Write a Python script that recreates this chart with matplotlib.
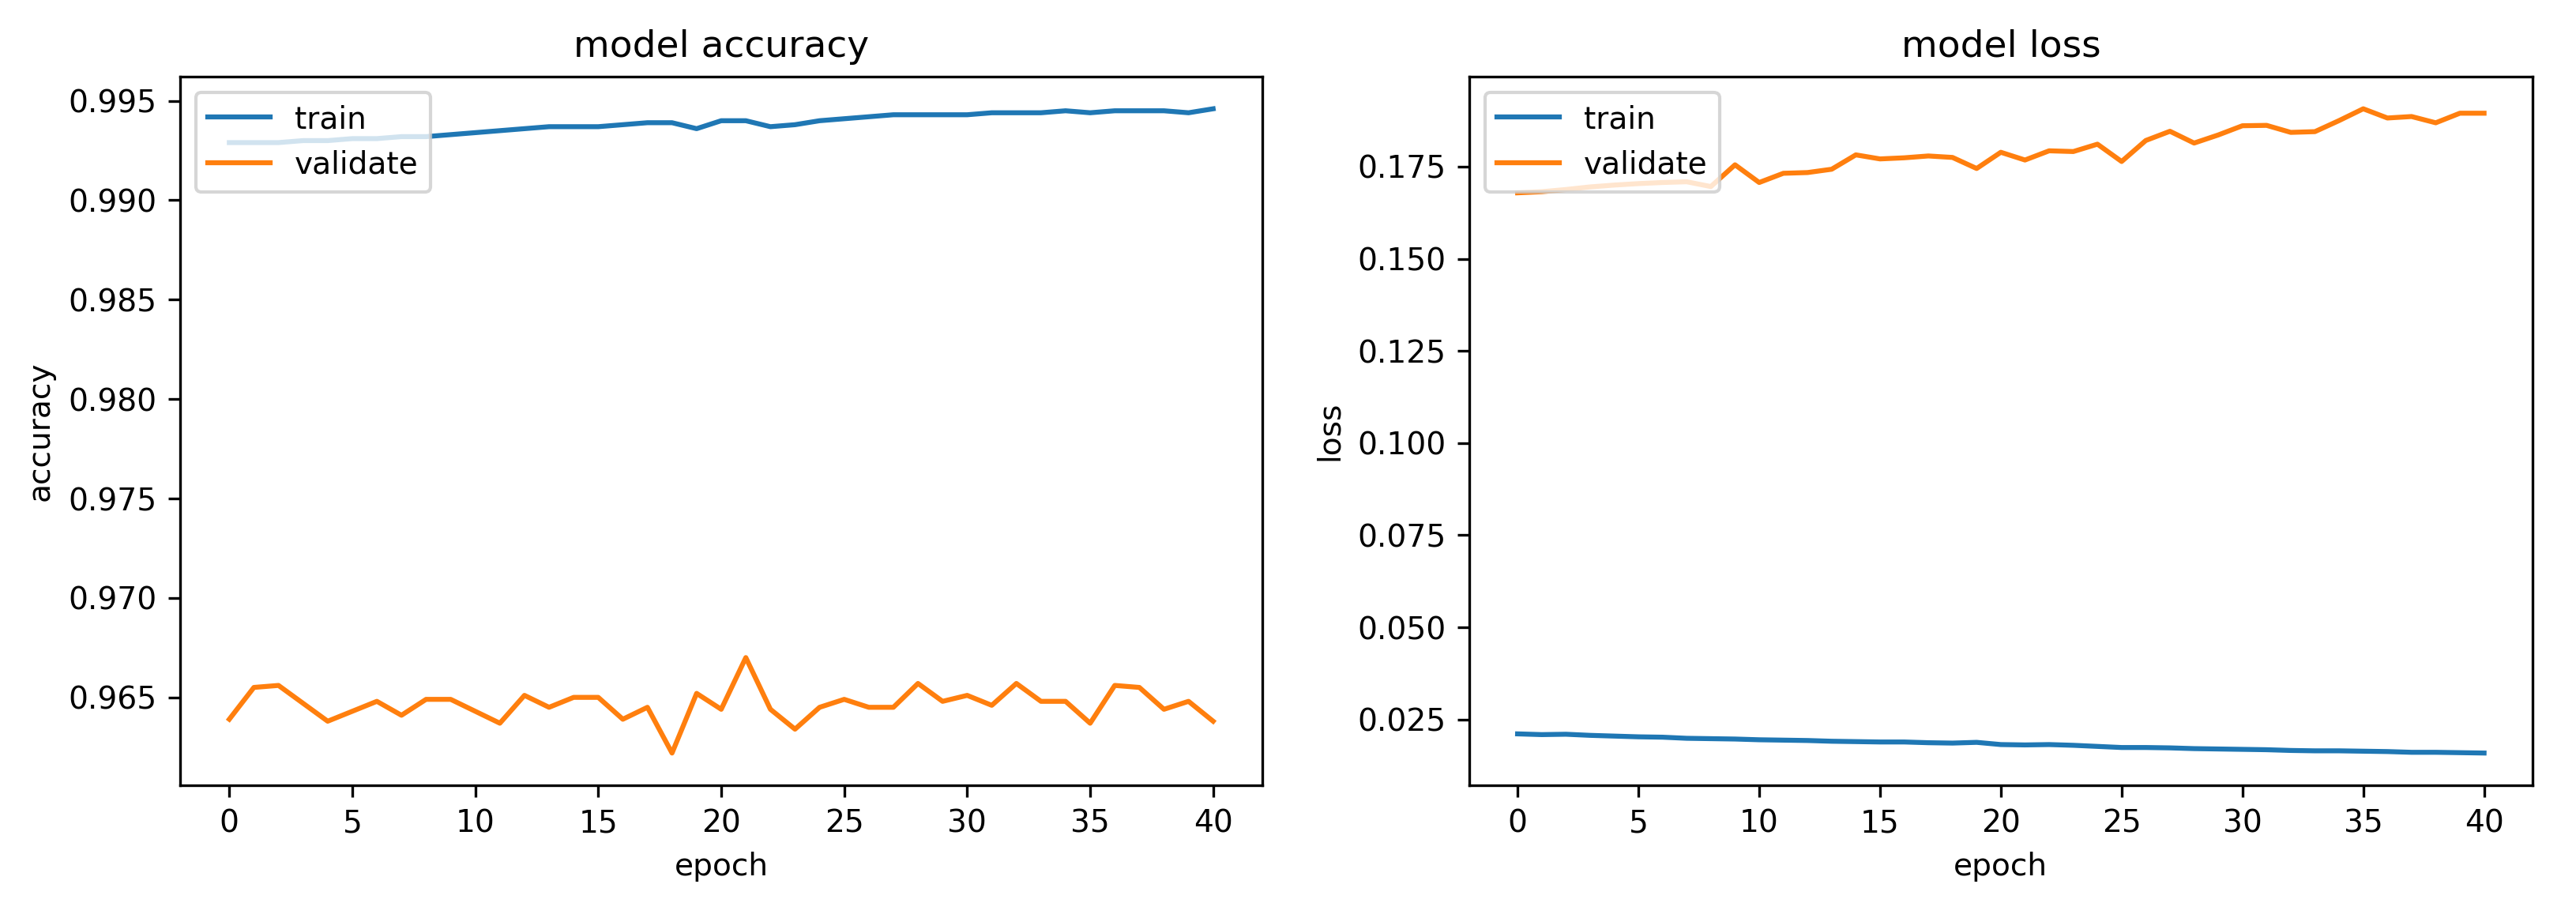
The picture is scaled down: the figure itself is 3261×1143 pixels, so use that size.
import matplotlib
matplotlib.use("Agg")
import matplotlib.pyplot as plt

# Historique d'entraînement (41 époques)
epochs = list(range(41))

train_acc = [0.9929, 0.9929, 0.9929, 0.9930, 0.9930, 0.9931, 0.9931, 0.9932, 0.9932, 0.9933,
             0.9934, 0.9935, 0.9936, 0.9937, 0.9937, 0.9937, 0.9938, 0.9939, 0.9939, 0.9936,
             0.9940, 0.9940, 0.9937, 0.9938, 0.9940, 0.9941, 0.9942, 0.9943, 0.9943, 0.9943,
             0.9943, 0.9944, 0.9944, 0.9944, 0.9945, 0.9944, 0.9945, 0.9945, 0.9945, 0.9944,
             0.9946]

val_acc = [0.9639, 0.9655, 0.9656, 0.9647, 0.9638, 0.9643, 0.9648, 0.9641, 0.9649, 0.9649,
           0.9643, 0.9637, 0.9651, 0.9645, 0.9650, 0.9650, 0.9639, 0.9645, 0.9622, 0.9652,
           0.9644, 0.9670, 0.9644, 0.9634, 0.9645, 0.9649, 0.9645, 0.9645, 0.9657, 0.9648,
           0.9651, 0.9646, 0.9657, 0.9648, 0.9648, 0.9637, 0.9656, 0.9655, 0.9644, 0.9648,
           0.9638]

train_loss = [0.0211, 0.0209, 0.0210, 0.0207, 0.0205, 0.0203, 0.0202, 0.0199, 0.0198, 0.0197,
              0.0195, 0.0194, 0.0193, 0.0191, 0.0190, 0.0189, 0.0189, 0.0187, 0.0186, 0.0188,
              0.0182, 0.0181, 0.0182, 0.0180, 0.0177, 0.0174, 0.0174, 0.0173, 0.0171, 0.0170,
              0.0169, 0.0168, 0.0166, 0.0165, 0.0165, 0.0164, 0.0163, 0.0161, 0.0161, 0.0160,
              0.0159]

val_loss = [0.1679, 0.1682, 0.1688, 0.1695, 0.1700, 0.1704, 0.1707, 0.1709, 0.1696, 0.1755,
            0.1707, 0.1732, 0.1734, 0.1743, 0.1782, 0.1771, 0.1774, 0.1779, 0.1775, 0.1745,
            0.1789, 0.1768, 0.1793, 0.1791, 0.1811, 0.1764, 0.1821, 0.1846, 0.1814, 0.1836,
            0.1861, 0.1862, 0.1843, 0.1845, 0.1875, 0.1907, 0.1882, 0.1886, 0.1869, 0.1895,
            0.1895]

plt.rcParams['font.size'] = 9.4
plt.rcParams['axes.titlesize'] = 11.3
plt.rcParams['lines.linewidth'] = 1.5

fig = plt.figure(figsize=(10.873, 3.81), dpi=300)

# Précision
ax1 = fig.add_axes([0.0699, 0.1304, 0.4200, 0.7848])
ax1.plot(epochs, train_acc, color='#1f77b4', label='train')
ax1.plot(epochs, val_acc, color='#ff7f0e', label='validate')
ax1.set_title('model accuracy')
ax1.set_ylabel('accuracy')
ax1.set_xlabel('epoch')
ax1.legend(loc='upper left')

# Perte
ax2 = fig.add_axes([0.5702, 0.1304, 0.4126, 0.7848])
ax2.plot(epochs, train_loss, color='#1f77b4', label='train')
ax2.plot(epochs, val_loss, color='#ff7f0e', label='validate')
ax2.set_title('model loss')
ax2.set_ylabel('loss')
ax2.set_xlabel('epoch')
ax2.legend(loc='upper left')

fig.savefig('out.png', dpi=300)
